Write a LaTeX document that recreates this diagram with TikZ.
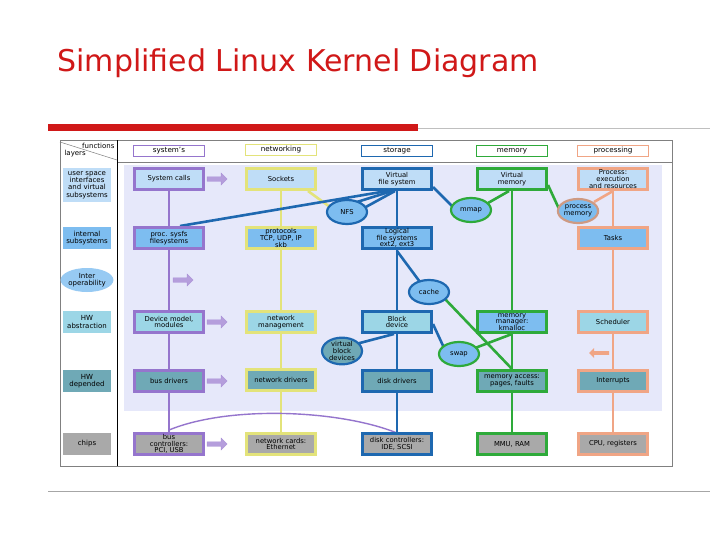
\documentclass[tikz,border=0pt]{standalone}
\usepackage{fontspec}
\setmainfont{DejaVu Sans}
\usetikzlibrary{shapes.geometric,shapes.arrows}
\definecolor{cpur}{HTML}{9575CD}
\definecolor{cyel}{HTML}{E3E37A}
\definecolor{cblu}{HTML}{1E68B0}
\definecolor{cgrn}{HTML}{2EAA3A}
\definecolor{cora}{HTML}{F0A585}
\definecolor{fa}{HTML}{BFDDF7}
\definecolor{fb}{HTML}{7DBDF0}
\definecolor{fc}{HTML}{9CD6E6}
\definecolor{fd}{HTML}{6FA9B6}
\definecolor{fe}{HTML}{A9A9A9}
\definecolor{lav}{HTML}{E6E8FA}
\definecolor{ttl}{HTML}{D01818}
\begin{document}
\begin{tikzpicture}[x=1pt,y=-1pt,
  bx/.style={draw,line width=2.6pt,minimum width=69pt,minimum height=21pt,inner sep=0.3pt,align=center,font=\fontsize{6.8}{6.6}\selectfont},
  hd/.style={draw,line width=1.2pt,minimum width=71pt,minimum height=11pt,inner sep=0pt,font=\fontsize{7.2}{7.4}\selectfont},
  el/.style={ellipse,draw=cblu,line width=2.2pt,fill=fb,minimum width=40pt,minimum height=24pt,inner sep=0pt,align=center,font=\fontsize{6.8}{6.8}\selectfont},
  lb/.style={minimum width=48pt,inner sep=1pt,align=center,font=\fontsize{7}{7.4}\selectfont},
  ln/.style={line width=2.6pt},
  ba/.style={single arrow,draw=cpur!80,fill=cpur!70,minimum width=12pt,minimum height=20pt,single arrow head extend=2pt,inner sep=1pt}]
\useasboundingbox (0,0) rectangle (728,546);
\fill[white] (0,0) rectangle (728,546);
\node[anchor=west,text=ttl,font=\fontsize{30}{33}\selectfont] (title) at (54,63) {Simplified Linux Kernel Diagram};
\fill[ttl] (48,124) rectangle (418,131);
\draw[gray!50] (418,128) -- (710,128);
\draw[gray!70] (48,491) -- (710,491);
% frame
\draw[gray,line width=0.6pt] (60,140) rectangle (672,466);
\draw[gray,line width=0.6pt] (117,162) -- (672,162);
\draw[black,line width=0.8pt] (117,140) -- (117,466);
\draw[gray,line width=0.5pt] (60,142) -- (117,160);
\node[font=\fontsize{7}{7}\selectfont,anchor=east] (fn) at (118,146) {functions};
\node[font=\fontsize{7}{7}\selectfont,anchor=west] (ly) at (61,154) {layers};
\fill[lav] (124,165) rectangle (662,411);
% headers
\node[hd,draw=cpur] (h1) at (169,151) {system's};
\node[hd,draw=cyel] (h2) at (281,150) {networking};
\node[hd,draw=cblu] (h3) at (397,151) {storage};
\node[hd,draw=cgrn] (h4) at (512,151) {memory};
\node[hd,draw=cora] (h5) at (613,151) {processing};
% left labels
\node[lb,fill=fa,minimum height=34pt] (l1) at (87,185) {user space\\interfaces\\and virtual\\subsystems};
\node[lb,fill=fb,minimum height=22pt] (l2) at (87,238) {internal\\subsystems};
\node[ellipse,fill=fb!80,minimum width=48pt,minimum height=24pt,inner sep=0pt,align=center,font=\fontsize{7}{7.4}\selectfont] (l3) at (87,280) {Inter\\operability};
\node[lb,fill=fc,minimum height=22pt] (l4) at (87,322) {HW\\abstraction};
\node[lb,fill=fd,minimum height=22pt] (l5) at (87,381) {HW\\depended};
\node[lb,fill=fe,minimum height=22pt] (l6) at (87,444) {chips};
% vertical lines
\draw[ln,cpur] (169,179) -- (169,444);
\draw[ln,cyel] (281,179) -- (281,444);
\draw[ln,cblu] (397,179) -- (397,444);
\draw[ln,cgrn] (512,179) -- (512,444);
\draw[ln,cora] (613,179) -- (613,444);
\draw[cpur,line width=1.4pt] (169,430) .. controls (230,405) and (340,410) .. (397,433);
% connections
\draw[ln,cyel] (308,191) -- (330,207);
\draw[ln,cblu] (180,226) -- (387,191);
\draw[ln,cblu] (364,208) -- (395,191);
\draw[ln,cblu] (357,202) -- (392,191);
\draw[ln,cblu] (433,187) -- (452,206);
\draw[ln,cgrn] (488,203) -- (509,191);
\draw[ln,cgrn] (548,185) -- (560,211);
\draw[ln,cora] (594,202) -- (613,191);
\draw[ln,cblu] (397,251) -- (420,282);
\draw[ln,cgrn] (445,299) -- (512,369);
\draw[ln,cblu] (356,344) -- (394,334);
\draw[ln,cblu] (433,324) -- (445,350);
\draw[ln,cgrn] (475,348) -- (512,334);
% boxes row1
\node[bx,draw=cpur,fill=fa] (b11) at (169,179) {System calls};
\node[bx,draw=cyel,fill=fa] (b12) at (281,179) {Sockets};
\node[bx,draw=cblu,fill=fa] (b13) at (397,179) {Virtual\\file system};
\node[bx,draw=cgrn,fill=fa] (b14) at (512,179) {Virtual\\memory};
\node[bx,draw=cora,fill=fa] (b15) at (613,179) {Process:\\execution\\and resources};
% row2
\node[bx,draw=cpur,fill=fb] (b21) at (169,238) {proc. sysfs\\filesystems};
\node[bx,draw=cyel,fill=fb] (b22) at (281,238) {protocols\\TCP, UDP, IP\\skb};
\node[bx,draw=cblu,fill=fb] (b23) at (397,238) {Logical\\file systems\\ext2, ext3};
\node[bx,draw=cora,fill=fb] (b25) at (613,238) {Tasks};
% row4
\node[bx,draw=cpur,fill=fc] (b41) at (169,322) {Device model,\\modules};
\node[bx,draw=cyel,fill=fc] (b42) at (281,322) {network\\management};
\node[bx,draw=cblu,fill=fc] (b43) at (397,322) {Block\\device};
\node[bx,draw=cgrn,fill=fb] (b44) at (512,322) {memory\\manager:\\kmalloc};
\node[bx,draw=cora,fill=fc] (b45) at (613,322) {Scheduler};
% row5
\node[bx,draw=cpur,fill=fd] (b51) at (169,381) {bus drivers};
\node[bx,draw=cyel,fill=fd] (b52) at (281,380) {network drivers};
\node[bx,draw=cblu,fill=fd] (b53) at (397,381) {disk drivers};
\node[bx,draw=cgrn,fill=fd] (b54) at (512,381) {memory access:\\pages, faults};
\node[bx,draw=cora,fill=fd] (b55) at (613,381) {Interrupts};
% chips
\node[bx,draw=cpur,fill=fe] (b61) at (169,444) {bus\\controllers:\\PCI, USB};
\node[bx,draw=cyel,fill=fe] (b62) at (281,444) {network cards:\\Ethernet};
\node[bx,draw=cblu,fill=fe] (b63) at (397,444) {disk controllers:\\IDE, SCSI};
\node[bx,draw=cgrn,fill=fe] (b64) at (512,444) {MMU, RAM};
\node[bx,draw=cora,fill=fe] (b65) at (613,444) {CPU, registers};
% ellipses
\node[el] (nfs) at (347,212) {NFS};
\node[el,draw=cgrn] (mmap) at (471,210) {mmap};
\node[el,draw=cora!70!gray,fill=fb] (pm) at (578,211) {process\\memory};
\node[el] (cache) at (429,292) {cache};
\node[el,fill=fd] (vbd) at (342,351) {virtual\\block\\devices};
\node[el,draw=cgrn,fill=fb] (swap) at (459,354) {swap};
% block arrows
\node[ba] (a1) at (216,179) {};
\node[ba] (a2) at (182,280) {};
\node[ba] (a3) at (216,322) {};
\node[ba] (a4) at (216,381) {};
\node[ba] (a5) at (216,444) {};
\node[single arrow,fill=cora,minimum width=10pt,minimum height=20pt,single arrow head extend=2pt,inner sep=1pt,shape border rotate=180] (a6) at (600,353) {};
\end{tikzpicture}
\end{document}
